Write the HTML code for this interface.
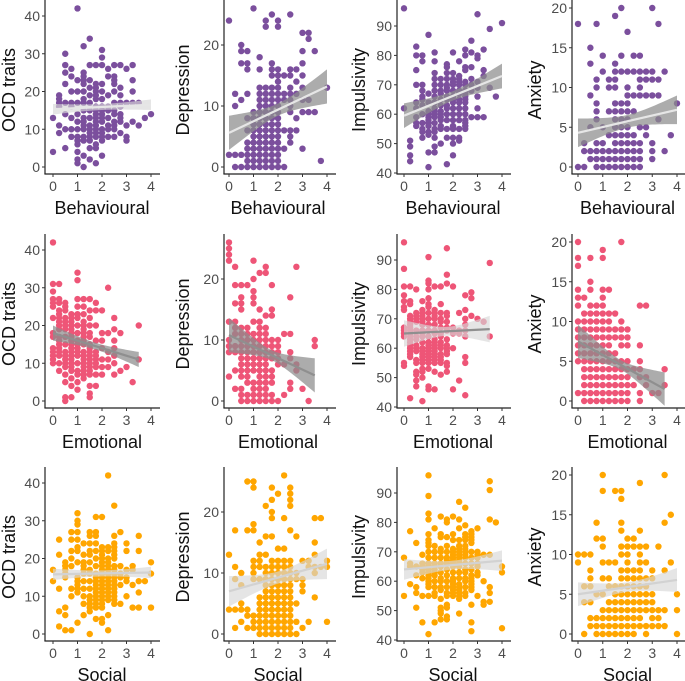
<!DOCTYPE html>
<html><head><meta charset="utf-8">
<style>
html,body{margin:0;padding:0;background:#fff;}
svg{display:block;font-family:"Liberation Sans",Arial,sans-serif;}
</style></head>
<body>
<svg id="chart" width="685" height="681" viewBox="0 0 685 681" xmlns="http://www.w3.org/2000/svg"></svg>
<script>
// ---- data ----
const rowNames = ["Behavioural","Emotional","Social"];
const colNames = ["OCD traits","Depression","Impulsivity","Anxiety"];
const xGroups = [0,0.25,0.5,0.75,1,1.25,1.5,1.75,2,2.25,2.5,2.75,3,3.25,3.5,3.75,4];
const yTicks = [[0,10,20,30,40],[0,10,20],[40,50,60,70,80,90],[0,5,10,15,20]];
const xTicks = [0,1,2,3,4];

const r1c1 = [[13,4],[19,18,17,11,9,16],[30,27,25,22,17,14,10,5],[26,24,20,17,16,13,10,8],[42,23,20,17,14,12,10,8,7,6,4,2,1],[32,25,24,23,22,20,18,17,15,13,12,11,10,8,7,3,0],[34,27,23,21,19,17,15,13,11,10,9,8,7,5,2],[27,22,21,20,19,18,16,15,14,13,12,11,10,9,8,6,5,1],[31,29,27,22,20,18,16,15,14,13,12,10,9,8,7,3],[26,24,19,16,15,13,11,10,8],[27,24,23,22,20,17,15,14,12,11,10,8],[27,21,19,17,16,14,13,12,9],[26,17,11,8,7],[27,23,20,17,12],[17,11],[13],[14]];
const r1c2 = [[24,2],[12,10,2,0],[20,19,17,11,2,0],[19,17,16,12,8,6,4,3,2,1,0],[26,9,8,7,6,5,4,3,2,1,0],[18,16,13,12,11,10,9,8,7,6,5,4,3,2,1,0],[24,23,13,12,11,10,9,8,7,6,5,4,3,2,1,0],[25,17,16,15,13,12,11,10,9,8,7,6,5,4,3,2,1,0],[24,23,16,15,14,13,12,11,10,9,8,7,6,5,4,3,2,1,0],[15,12,11,6,3,0],[25,16,15,13,12,11,10,9,6,5,4],[16,14,12,8,6],[22,19,17,15,13,11,9,3],[22,21,11,9],[19,9],[1],[13]];
const r1c3 = [[96,62],[51,49,46,44],[83,80,75,70,64,62,59,57,56],[80,78,70,68,66,65,63,60,57,55,54,52],[87,67,64,61,60,59,58,57,56,54,53,47,42],[81,78,74,72,70,68,66,64,62,61,60,59,57,55,54,52,49,47],[72,70,68,67,65,63,61,60,59,58,56,55,50],[77,76,74,72,70,69,68,66,65,63,62,60,58,55,52,43],[81,74,72,71,70,68,66,65,64,62,60,58,56,55,52,50,46],[78,73,72,71,70,68,67,65,64,62,60,58,55,52,51],[82,80,76,75,71,70,68,67,66,65,64,62,60,58,57,56,55],[85,81,76,72,70,68,59],[94,80,79,71,69,66,62,59],[82,75,73,59],[89,69],[66],[91]];
const r1c4 = [[18,0],[3,2,0],[15,13,9,5,2,1],[18,11,10,8,7,6,3,2,1,0],[14,12,5,3,2,1,0],[11,10,7,4,2,1,0],[19,13,12,11,10,8,7,6,5,4,3,2,1,0],[20,14,12,8,7,6,5,4,3,2,1,0],[17,12,10,9,8,7,6,5,4,3,2,1,0],[14,12,9,7,4,3,2,1,0],[14,12,11,10,9,5,3,2,1,0],[12,11,9,5,4],[20,12,11,9,3,2,1],[18,11,9,6],[12,2],[4],[8]];
const r2c1 = [[42,31,29,27,26,25,22,18,17,14,13,12,11,10],[31,27,26,24,23,22,21,20,19,17,16,15,14,13,12,10,8],[26,25,24,22,21,20,19,17,15,13,12,11,10,9,7,5,1,0],[23,22,21,20,19,18,17,16,15,14,13,12,11,10,9,8,6,4,1],[34,32,27,25,23,22,20,18,16,15,14,13,12,10,8,7,5,3],[27,25,23,21,20,19,18,17,16,15,13,12,11,10,9,8,7,6],[27,24,22,20,18,17,15,14,13,12,11,10,9,8,7,4,2,1],[26,24,20,16,13,12,11,10,9,7,4],[24,18,16,14,11,9,7],[30,18,13,11,9],[22,19,16,14,12,10,7],[18,8],[9],[5],[20,11],[],[]];
const r2c2 = [[26,25,24,23,13,10,9,8,4],[22,19,16,13,12,11,9,8,5,2],[19,17,16,15,12,11,10,9,8,7,6,5,4,2,1,0],[19,12,11,10,9,8,7,6,5,4,3,1,0],[23,20,18,17,16,13,11,10,9,8,7,6,5,3,2,1,0],[21,15,13,12,11,10,9,8,7,6,5,4,3,2,1,0],[22,21,14,12,11,10,9,8,7,6,5,4,3,2,1,0],[19,15,14,10,9,8,7,5,4,3,1,0],[10,9,8,7,6,0],[11,6,1],[17,11,8,7,3,2],[22,6,5],[2],[0],[10,9],[],[]];
const r2c3 = [[96,87,81,78,76,74,73,67,66,65,64,55,54],[81,76,75,71,70,69,68,67,66,65,64,63,62,61,60,59,58,57,43],[80,72,71,70,69,66,64,63,61,60,59,56,55,52,51,49,47],[76,73,72,71,70,69,68,66,65,64,62,60,59,58,57,56,55,53,52,50,42],[91,83,82,80,77,75,74,72,70,68,66,64,62,61,60,59,58,57,56,55,53,47,46],[81,73,72,71,70,68,66,65,63,62,61,60,59,58,57,56,55,52,46],[81,75,72,70,69,67,65,64,62,61,60,58,57,56,55,51],[94,85,82,72,71,69,67,66,63,61,60,59,58,55,54,52],[81,67,65,60,46],[72,66,65,49],[78,73,70,68,66,64,57,55,44],[79,77,71],[70],[69],[89,64],[],[]];
const r2c4 = [[20,18,17,14,13,12,10,9,8,7,6,5,1],[13,11,10,9,8,7,6,5,4,3,2,1,0],[18,15,14,12,11,10,9,8,7,6,5,4,3,2,1,0],[12,11,10,9,8,7,6,5,4,3,2,1,0],[19,18,14,13,12,11,10,9,8,7,6,5,4,3,2,1,0],[14,11,10,9,8,7,6,5,4,3,2,1,0],[11,9,8,6,5,4,3,2,1,0],[20,10,9,8,7,5,4,3,2,1,0],[9,8,7,5,4,3,2,1,0],[4,2],[12,7,5,4,3,1,0],[12,3,2],[1],[1],[4,2],[],[]];
const r3c1 = [[17,14],[25,21,12,6,2],[19,18,17,16,15,7,5,1],[27,25,22,20,18,12,10,1],[32,30,29,27,25,23,22,19,15,14,13,12,11,3],[24,21,19,18,17,16,14,12,10,8,5],[27,26,24,22,21,19,17,16,14,12,10,9,8,7,6,0],[31,27,26,24,22,20,18,16,15,14,13,12,11,10,9,8,7,4],[31,23,22,21,20,19,18,17,16,15,14,13,12,11,10,9,8,7,4,3],[42,23,22,20,19,18,17,16,15,14,13,12,11,10,9,5,1],[34,26,24,23,22,21,20,18,17,16,15,14,13,12,11,10,9,8],[27,18,16,15,13,8],[24,22,17,15,14,10],[18,17,13,7],[26,22,14,11,7],[14],[19,16,7]];
const r3c2 = [[13,4],[17,11,9,4,1],[10,8,5,4,2],[25,17,4,3,1],[25,24,18,17,12,11,10,9,3,2,1],[15,13,12,11,9,6,5,4,3,2,1,0],[21,16,13,11,10,9,8,7,6,5,4,3,2,1,0],[24,22,20,19,16,12,11,10,9,8,7,6,5,4,3,2,1,0],[23,14,12,11,10,9,8,7,6,5,4,3,2,1,0],[26,19,14,12,11,10,9,8,7,6,5,4,3,2,1,0],[24,23,22,21,17,12,11,10,9,8,7,6,5,4,3,2,1,0],[16,10,9,5,2,0],[12,9,8,7,1],[12,11,2],[19,15,13,11,10,6],[19,11],[12,11,2]];
const r3c3 = [[68,55],[77,66,65,59],[73,65,62,58,56,51],[69,66,65,64,63,61,55,46],[96,89,83,81,76,74,73,72,70,68,66,65,64,63,62,61,60,59,58,55,42],[78,72,70,68,66,65,64,63,62,60,58,56,55,46],[82,76,75,71,70,68,66,65,63,61,60,58,57,54,51,50,49,47],[81,80,75,72,70,68,67,66,64,62,60,58,56,55,52,51,48,47],[82,76,74,71,70,69,68,67,66,65,63,61,60,59,58,57,56,55],[87,81,78,74,72,71,70,69,68,67,66,65,63,61,59,58,57,56,55,54,49],[85,79,76,75,74,72,71,70,69,68,66,64,63,61,60,58,56,55],[77,76,75,74,73,70,68,66,64,62,61,60,59,58,57,52,46,43],[78,70,69,68,66,65,63,62,55],[69,60,53,52],[94,91,81,69,58,56,53],[80],[65,63,44]];
const r3c4 = [[10,9],[10,6,4,0],[10,8,7,6,4,2,1],[14,12,5,2,1,0],[20,18,12,11,9,7,5,3,2,1,0],[9,7,6,4,3,2,1,0],[18,9,6,5,4,3,2,1,0],[18,17,14,13,11,10,8,7,6,5,4,3,2,1,0],[12,11,10,9,8,7,6,5,4,3,2,1,0],[12,11,8,7,6,5,4,3,2,1,0],[19,13,11,10,9,8,7,6,5,4,3,2,1],[11,9,7,6,5,4,3,1,0],[8,7,5,4,3,2,1],[11,3,2,1],[20,14,8,3,1],[15,9],[5,3,0]];
const panelData = [[r1c1,r1c2,r1c3,r1c4],[r2c1,r2c2,r2c3,r2c4],[r3c1,r3c2,r3c3,r3c4]];

const fitXEnd = [4,3.5,4];
const fitYStart = [[15.3,5.6,59.5,4.3],[18,10.8,65,7.5],[15.8,7,64,5]];
const fitYEnd = [[16.5,13.2,73,7.2],[11,4.2,66.5,1.5],[16.3,11.5,67,6.8]];
const ciCenter = [[0.8,1.0,1.6,0.8],[0.9,0.8,1.5,0.6],[0.8,1.0,1.5,0.6]];
const ciEnd = [[1.4,2.8,4.2,1.8],[2.0,2.8,4.5,2.1],[1.5,2.5,3.5,1.5]];
const bandDark = [[false,true,true,true],[true,true,false,true],[false,false,false,false]];

// ---- layout ----
const colors = ["#7b4f9d","#ee5577","#ffa600"];
const lineColors = ["#e6e6e6","#8f8f8f","#d2d2d2"];
const rowOff = [0,234,467];
const axisX = [45,224,397,572];
const x0px = [53,229,404,578];
const x4px = [151,327,502,677];
const yMapV = [[0,40],[0,20],[40,90],[0,20]];
const yMapP = [[167,16],[167,45],[173,26],[167,8]];
const yTitleX = [9,183,359,535];
const NS = "http://www.w3.org/2000/svg";
const svg = document.getElementById("chart");
function mk(tag, attrs, parent){const e=document.createElementNS(NS,tag);for(const k in attrs)e.setAttribute(k,attrs[k]);(parent||svg).appendChild(e);return e;}

for(let r=0;r<3;r++){
  for(let c=0;c<4;c++){
    const off=rowOff[r];
    const g=mk("g",{});
    
    
    const sx=v=>x0px[c]+(x4px[c]-x0px[c])*v/4;
    const sy=v=>off+yMapP[c][0]+(yMapP[c][1]-yMapP[c][0])*(v-yMapV[c][0])/(yMapV[c][1]-yMapV[c][0]);
    const bottom=off+174;
    const pts=mk("g",{},g);
    
    
    const d=panelData[r][c];
    for(let i=0;i<xGroups.length;i++){
      for(const y of d[i]){
        const p=mk("circle",{cx:sx(xGroups[i]),cy:sy(y),r:3.2,fill:colors[r]},pts);
        
        
      }
    }
    const xa=0, xb=fitXEnd[r], xm=(xa+xb)/2, hw=(xb-xa)/2;
    const fy=x=>fitYStart[r][c]+(fitYEnd[r][c]-fitYStart[r][c])*(x-xa)/(xb-xa);
    const half=x=>{const t=(x-xm)/hw;return Math.sqrt(ciCenter[r][c]**2+(ciEnd[r][c]**2-ciCenter[r][c]**2)*t*t);};
    let up=[],lo=[];
    for(let k=0;k<=40;k++){const x=xa+(xb-xa)*k/40;up.push(sx(x)+","+sy(fy(x)+half(x)));lo.unshift(sx(x)+","+sy(fy(x)-half(x)));}
    const band=mk("polygon",{points:up.concat(lo).join(" "),fill:bandDark[r][c]?"rgba(140,140,140,0.72)":"rgba(215,215,215,0.65)"},g);
    
    
    const ln=mk("line",{x1:sx(xa),y1:sy(fy(xa)),x2:sx(xb),y2:sy(fy(xb)),stroke:lineColors[r],"stroke-width":2.2},g);
    
    
    const ya=mk("line",{x1:axisX[c],y1:off,x2:axisX[c],y2:bottom,stroke:"#222","stroke-width":1.2},g);
    
    
    const xl=mk("line",{x1:axisX[c]-0.6,y1:bottom,x2:x4px[c]+9,y2:bottom,stroke:"#222","stroke-width":1.2},g);
    
    
    for(const t of xTicks){
      mk("line",{x1:sx(t),y1:bottom,x2:sx(t),y2:bottom+3,stroke:"#333","stroke-width":1},g);
      const tl=mk("text",{x:sx(t),y:bottom+17,"text-anchor":"middle","font-size":14,fill:"#4d4d4d"},g);
      tl.textContent=t;
      
      
    }
    for(const t of yTicks[c]){
      mk("line",{x1:axisX[c]-3,y1:sy(t),x2:axisX[c],y2:sy(t),stroke:"#333","stroke-width":1},g);
      const tl=mk("text",{x:axisX[c]-5,y:sy(t)+5,"text-anchor":"end","font-size":14,fill:"#4d4d4d"},g);
      tl.textContent=t;
      
      
    }
    const xt=mk("text",{x:(x0px[c]+x4px[c])/2,y:off+214,"text-anchor":"middle","font-size":18,fill:"#111"},g);
    xt.textContent=rowNames[r];
    
    
    const cy=off+90;
    const yt=mk("text",{x:yTitleX[c]+6,y:cy,"text-anchor":"middle","font-size":18,fill:"#111",transform:`rotate(-90 ${yTitleX[c]+6} ${cy})`},g);
    yt.textContent=colNames[c];
    
    
  }
}
</script>
</body></html>
